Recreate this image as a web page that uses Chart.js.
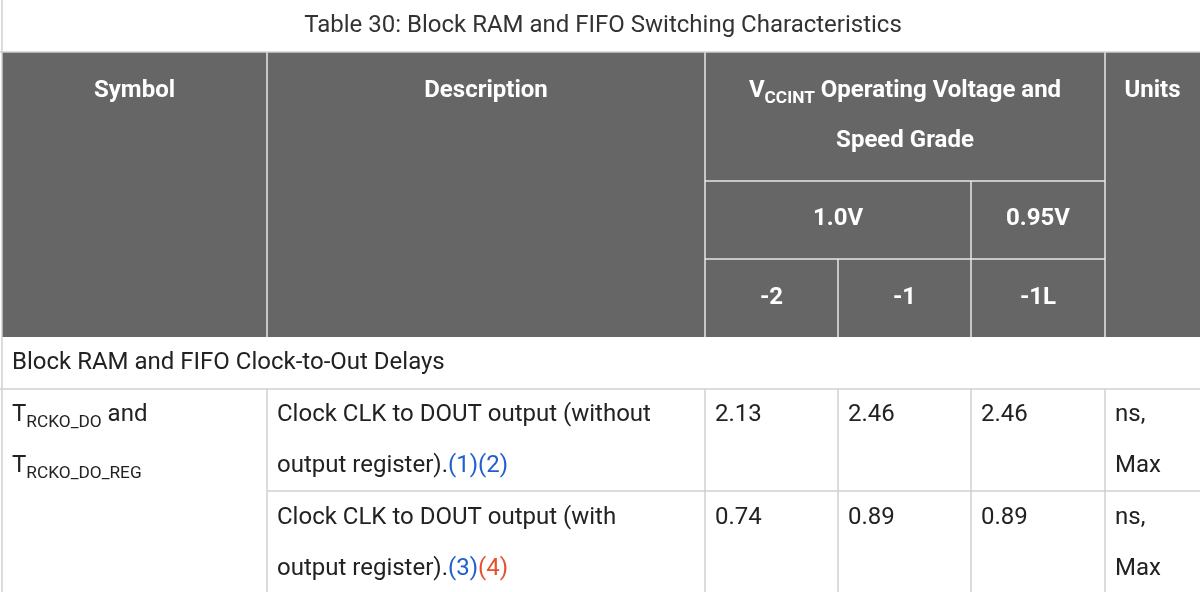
<!DOCTYPE html>
<html><head><meta charset="utf-8">
<script src="https://cdn.jsdelivr.net/npm/chart.js@4"></script>
<style>html,body{margin:0;background:#fff}#wrap{width:1200px;height:592px}</style>
</head><body><div id="wrap"><canvas id="c"></canvas></div>
<script>
// table content
const title = 'Table 30: Block RAM and FIFO Switching Characteristics';
const colEdges = [2, 267, 705, 838, 971, 1105, 1200];
const headTop = ['Symbol', 'Description', 'Units'];
const voltages = ['1.0V', '0.95V'];
const grades = ['-2', '-1', '-1L'];
const section = 'Block RAM and FIFO Clock-to-Out Delays';
const descLines = [
  [[['Clock CLK to DOUT output (without', 'n']], [['output register).', 'n'], ['(1)', 'b'], ['(2)', 'b']]],
  [[['Clock CLK to DOUT output (with', 'n']], [['output register).', 'n'], ['(3)', 'b'], ['(4)', 'r']]]
];
const vals2 = [2.13, 0.74];
const vals1 = [2.46, 0.89];
const vals1L = [2.46, 0.89];
const units = ['ns,', 'Max'];

const FONT = '"Roboto", "Noto Sans", sans-serif';
const colors = { n: '#222', b: '#1f5fd0', r: '#e5502e', w: '#fff' };

function rich(ctx, segs, x, y, size, bold, align) {
  let w = 0;
  const parts = segs.map(([t, s]) => {
    const sz = s === 'sub' ? size * 0.72 : size;
    ctx.font = (bold ? 'bold ' : '') + sz + 'px ' + FONT;
    const m = ctx.measureText(t).width; w += m; return [t, s, sz, m];
  });
  let cx = align === 'center' ? x - w / 2 : x;
  parts.forEach(([t, s, sz, m]) => {
    ctx.font = (bold ? 'bold ' : '') + sz + 'px ' + FONT;
    ctx.fillStyle = bold ? '#fff' : (colors[s] || colors.n);
    ctx.textAlign = 'left'; ctx.textBaseline = 'middle';
    ctx.fillText(t, cx, s === 'sub' ? y + size * 0.3 : y);
    cx += m;
  });
}

const tablePlugin = {
  id: 'table',
  afterDraw(chart) {
    const { ctx, scales: { x, y } } = chart;
    const X = v => x.getPixelForValue(v), Y = v => y.getPixelForValue(v);
    const line = (x1, y1, x2, y2, c) => { ctx.strokeStyle = c; ctx.lineWidth = 1.5; ctx.beginPath(); ctx.moveTo(X(x1), Y(y1)); ctx.lineTo(X(x2), Y(y2)); ctx.stroke(); };
    const mid = (a, b) => (colEdges[a] + colEdges[b]) / 2;
    ctx.save();
    // title
    ctx.fillStyle = '#333'; ctx.font = '24px ' + FONT; ctx.textAlign = 'center'; ctx.textBaseline = 'middle';
    ctx.fillText(title, X(603), Y(26));
    // header bg
    ctx.fillStyle = '#666';
    ctx.fillRect(X(colEdges[0]), Y(52), X(1200) - X(colEdges[0]), Y(337) - Y(52));
    const W = '#e8e8e8';
    [1, 2, 5].forEach(i => line(colEdges[i], 52, colEdges[i], 337, W));
    line(colEdges[4], 181, colEdges[4], 337, W);
    line(colEdges[3], 259, colEdges[3], 337, W);
    line(705, 181, 1105, 181, W); line(705, 259, 1105, 259, W);
    rich(ctx, [[headTop[0], 'w']], X(mid(0, 1)), Y(91), 24, true, 'center');
    rich(ctx, [[headTop[1], 'w']], X(mid(1, 2)), Y(91), 24, true, 'center');
    rich(ctx, [['V', 'w'], ['CCINT', 'sub'], [' Operating Voltage and', 'w']], X(mid(2, 5)), Y(91), 24, true, 'center');
    rich(ctx, [['Speed Grade', 'w']], X(mid(2, 5)), Y(141), 24, true, 'center');
    rich(ctx, [[headTop[2], 'w']], X(mid(5, 6)), Y(91), 24, true, 'center');
    rich(ctx, [[voltages[0], 'w']], X(mid(2, 4)), Y(219), 24, true, 'center');
    rich(ctx, [[voltages[1], 'w']], X(mid(4, 5)), Y(219), 24, true, 'center');
    grades.forEach((g, i) => rich(ctx, [[g, 'w']], X(mid(2 + i, 3 + i)), Y(298), 24, true, 'center'));
    // body
    const G = '#d0d0d0';
    line(colEdges[0], 0, colEdges[0], 592, G);
    line(0, 52, 1200, 52, G);
    line(0, 389, 1200, 389, G);
    line(267, 491, 1200, 491, G);
    [1, 2, 3, 4, 5].forEach(i => line(colEdges[i], 389, colEdges[i], 592, G));
    rich(ctx, [[section, 'n']], X(12), Y(363), 24, false);
    rich(ctx, [['T', 'n'], ['RCKO_DO', 'sub'], [' and', 'n']], X(12), Y(415), 24, false);
    rich(ctx, [['T', 'n'], ['RCKO_DO_REG', 'sub']], X(12), Y(466), 24, false);
    [0, 1].forEach(r => {
      const top = 415 + r * 103;
      rich(ctx, descLines[r][0], X(277), Y(top), 24, false);
      rich(ctx, descLines[r][1], X(277), Y(top + 51), 24, false);
      [vals2[r], vals1[r], vals1L[r]].forEach((v, i) => rich(ctx, [[v.toFixed(2), 'n']], X(colEdges[2 + i] + 10), Y(top), 24, false));
      rich(ctx, [[units[0], 'n']], X(1115), Y(top), 24, false);
      rich(ctx, [[units[1], 'n']], X(1115), Y(top + 51), 24, false);
    });
    ctx.restore();
  }
};

new Chart(document.getElementById('c'), {
  type: 'scatter',
  data: { datasets: [{ data: [], showLine: false }] },
  options: {
    responsive: true, maintainAspectRatio: false, animation: false,
    layout: { padding: 0 },
    plugins: { legend: { display: false }, tooltip: { enabled: false } },
    scales: {
      x: { type: 'linear', min: 0, max: 1200, display: false },
      y: { type: 'linear', min: 0, max: 592, reverse: true, display: false }
    }
  },
  plugins: [tablePlugin]
});
</script></body></html>
